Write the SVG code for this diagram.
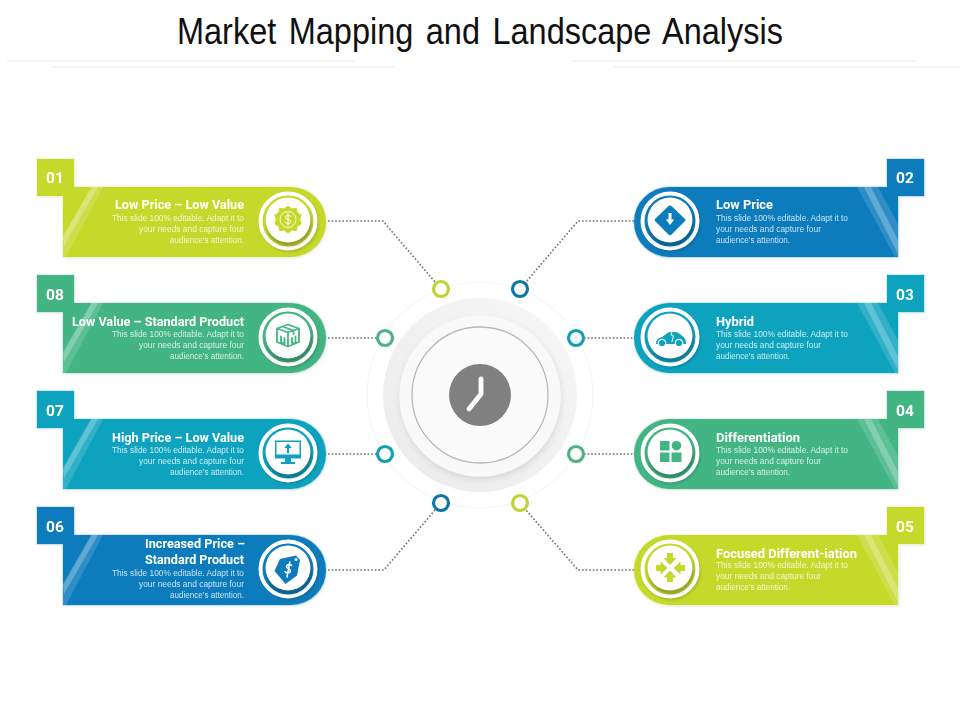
<svg xmlns="http://www.w3.org/2000/svg" width="960" height="720" viewBox="0 0 960 720">
<style>
text{font-family:"Liberation Sans",Arial,sans-serif}
.title{font-size:37px;fill:#111;word-spacing:4px}
.num{font-family:Roboto,"Liberation Sans",sans-serif;font-weight:700;font-size:15.5px;fill:#fff;text-anchor:middle}
.head{font-family:Roboto,"Liberation Sans",sans-serif;font-weight:700;font-size:12.5px;fill:#fff}
.body{font-size:8.5px;fill:#fff;fill-opacity:.78}
.lime{color:#c4d92c}.green{color:#43b583}.teal{color:#0fa3bf}.blue{color:#0b7cbc}
.shape{fill:currentColor;stroke:currentColor;stroke-opacity:.16;stroke-width:2;paint-order:stroke}
.ic{fill:currentColor}
.icl{fill:none;stroke:currentColor;stroke-width:1.800;stroke-linejoin:round;stroke-linecap:round}
.wl{fill:none;stroke:#fff;stroke-linecap:round;stroke-linejoin:round}
.st1{fill:#fff;fill-opacity:.14}
.st2{fill:#fff;fill-opacity:.24}
.dot{fill:none;stroke:#6f6f6f;stroke-width:1.6;stroke-dasharray:1.6 2}
.ring{fill:#fff;stroke-width:3.2}
.rule{stroke:#efefef;stroke-width:1.6;fill:none}
</style>
<defs>
<linearGradient id="hubg" x1="0" y1="1" x2="1" y2="0"><stop offset="0" stop-color="#ebebeb"/><stop offset="1" stop-color="#f7f7f7"/></linearGradient>
<filter id="soft" x="-10%" y="-15%" width="120%" height="130%"><feDropShadow dx="1" dy="1" stdDeviation="1.6" flood-color="#000" flood-opacity=".10"/></filter>
<filter id="blur2" x="-30%" y="-30%" width="160%" height="160%"><feGaussianBlur stdDeviation="1"/></filter>
<filter id="disc" x="-20%" y="-20%" width="140%" height="140%"><feDropShadow dx="1" dy="3" stdDeviation="3" flood-color="#000" flood-opacity=".10"/></filter>
<g id="medalL">
<circle cx="1.500" cy="2" r="29.500" fill="#000" opacity=".12" filter="url(#blur2)"/>
<circle cx="0" cy="0" r="27.500" class="ic"/>
<circle cx="0" cy="0" r="27.500" fill="none" stroke="#fff" stroke-width="4"/>
<circle cx="1" cy="2.500" r="23" fill="#000" opacity=".24" filter="url(#blur2)"/>
<circle cx="0" cy="-1" r="22.500" fill="#fff"/>
</g>
<path id="cardL" class="shape" d="M37 159H74V187H291A35 35 0 0 1 291 257H63V196H37Z"/>
<path id="cardR" class="shape" d="M924 159H887V187H669A35 35 0 0 0 669 257H898V196H924Z"/>
<g id="stripL"><path class="st1" d="M63 257V238L92 187H103L66 257Z"/><path class="st2" d="M64 246L98 187H91L63 236Z"/></g>
<g id="stripR"><path class="st1" d="M857 187H878L898 224V257H895Z"/><path class="st2" d="M864 187H871L898 240V254Z"/></g>
</defs>

<g id="title">
<text class="title" x="177" y="44" textLength="606" lengthAdjust="spacingAndGlyphs">Market Mapping and Landscape Analysis</text>
<path class="rule" d="M7 61H354M52 67H394M571 61H916M614 67H960"/>
</g>

<g id="connectors">
<path class="dot" d="M328 221H383L435 282"/>
<path class="dot" d="M328 338H377"/>
<path class="dot" d="M328 454H377"/>
<path class="dot" d="M328 570H384L435 510"/>
<path class="dot" d="M634 221H578L526 282"/>
<path class="dot" d="M584 338H634"/>
<path class="dot" d="M584 454H634"/>
<path class="dot" d="M634 570H578L526 510"/>
</g>

<g id="hub">
<circle cx="480" cy="395" r="113" fill="none" stroke="#f6f6f6" stroke-width="1.2"/>
<circle cx="480" cy="395" r="97" fill="url(#hubg)"/>
<circle cx="480" cy="396" r="80.500" fill="#f9f9f9" filter="url(#disc)"/>
<circle cx="480" cy="395" r="68" fill="#fbfbfb" stroke="#b9b9b9" stroke-width="1.3"/>
<circle cx="480" cy="395" r="31" fill="#808080"/>
<path d="M481 379V394L469 409" fill="none" stroke="#fff" stroke-width="4.800" stroke-linecap="round" stroke-linejoin="round"/>
</g>

<g id="dots">
<circle class="ring" cx="441" cy="289" r="7.500" stroke="#bfd333"/>
<circle class="ring" cx="520" cy="289" r="7.500" stroke="#0f76a8"/>
<circle class="ring" cx="385" cy="338" r="7.500" stroke="#4fb184"/>
<circle class="ring" cx="576" cy="338" r="7.500" stroke="#129fb1"/>
<circle class="ring" cx="385" cy="454" r="7.500" stroke="#129fb1"/>
<circle class="ring" cx="576" cy="454" r="7.500" stroke="#4fb184"/>
<circle class="ring" cx="441" cy="503" r="7.500" stroke="#0f76a8"/>
<circle class="ring" cx="520" cy="503" r="7.500" stroke="#bfd333"/>
</g>

<g id="node-01" class="lime" filter="url(#soft)">
<use href="#cardL"/><use href="#stripL"/>
<text class="num" x="55" y="183">01</text>
<text class="head" x="115" y="209" textLength="129" lengthAdjust="spacingAndGlyphs">Low Price – Low Value</text>
<text class="body" x="112" y="220.700" textLength="132" lengthAdjust="spacingAndGlyphs">This slide 100% editable.  Adapt it to</text>
<text class="body" x="139" y="232" textLength="105" lengthAdjust="spacingAndGlyphs">your needs and capture four</text>
<text class="body" x="170" y="243.300" textLength="74" lengthAdjust="spacingAndGlyphs">audience's attention.</text>
<use href="#medalL" x="288" y="221"/>
<path class="ic" d="M288 205.500l3.800 3 4.800-.8 1 4.800 4.200 2.500-1.800 4.500 1.800 4.500-4.200 2.500-1 4.800-4.800-.8-3.800 3-3.800-3-4.800.8-1-4.800-4.200-2.500 1.800-4.500-1.800-4.500 4.200-2.500 1-4.800 4.800.8z"/>
<circle cx="288" cy="219.500" r="8" fill="none" stroke="#fff" stroke-width=".9"/>
<path class="wl" stroke-width="1" d="M291 216.500c-1-1.300-5.600-1.500-5.600 1 0 2.700 5.400 1.500 5.400 4 0 2.500-4.600 2.300-5.800.8M288 213.500v12"/>
</g>

<g id="node-08" class="green" filter="url(#soft)" transform="translate(0 116)">
<use href="#cardL"/><use href="#stripL"/>
<text class="num" x="55" y="183.700">08</text>
<text class="head" x="72" y="210" textLength="172" lengthAdjust="spacingAndGlyphs">Low Value – Standard Product</text>
<text class="body" x="112" y="220.700" textLength="132" lengthAdjust="spacingAndGlyphs">This slide 100% editable.  Adapt it to</text>
<text class="body" x="139" y="232" textLength="105" lengthAdjust="spacingAndGlyphs">your needs and capture four</text>
<text class="body" x="170" y="243.300" textLength="74" lengthAdjust="spacingAndGlyphs">audience's attention.</text>
<use href="#medalL" x="288" y="221"/>
<path class="icl" d="M288 208.500l11 4v13.500l-11 4.500-11-4.500v-13.500zM277 212.500l11 4 11-4M288 216.500v14M282.500 210.500l11 4v3.500M281 220.500v6l3.500 1.300v-6M292 221.800v6l3.500-1.300v-6"/>
</g>

<g id="node-07" class="teal" filter="url(#soft)" transform="translate(0 232)">
<use href="#cardL"/><use href="#stripL"/>
<text class="num" x="55" y="183.700">07</text>
<text class="head" x="112" y="210" textLength="132" lengthAdjust="spacingAndGlyphs">High Price – Low Value</text>
<text class="body" x="112" y="220.700" textLength="132" lengthAdjust="spacingAndGlyphs">This slide 100% editable.  Adapt it to</text>
<text class="body" x="139" y="232" textLength="105" lengthAdjust="spacingAndGlyphs">your needs and capture four</text>
<text class="body" x="170" y="243.300" textLength="74" lengthAdjust="spacingAndGlyphs">audience's attention.</text>
<use href="#medalL" x="288" y="221"/>
<path class="ic" d="M275 208.500h26v18h-26zM285 226.500h6v3.500h4v2h-14v-2h4z"/>
<path fill="#fff" d="M276.500 210h23v12.500h-23z"/>
<path class="ic" d="M288 211.500l3.800 4.500h-2.800v5h-2v-5h-2.800z"/>
</g>

<g id="node-06" class="blue" filter="url(#soft)" transform="translate(0 348)">
<use href="#cardL"/><use href="#stripL"/>
<text class="num" x="55" y="183.700">06</text>
<text class="head" x="145" y="200" textLength="100" lengthAdjust="spacingAndGlyphs">Increased Price –</text>
<text class="head" x="145" y="216" textLength="99" lengthAdjust="spacingAndGlyphs">Standard Product</text>
<text class="body" x="112" y="227.700" textLength="132" lengthAdjust="spacingAndGlyphs">This slide 100% editable.  Adapt it to</text>
<text class="body" x="139" y="239" textLength="105" lengthAdjust="spacingAndGlyphs">your needs and capture four</text>
<text class="body" x="170" y="250.300" textLength="74" lengthAdjust="spacingAndGlyphs">audience's attention.</text>
<use href="#medalL" x="288" y="221"/>
<path class="ic" d="M280 211l16-3.500 4 4.500-3 15.500-11.500 8.500-11-13z"/>
<circle cx="296" cy="211.500" r="1.500" fill="#fff"/>
<path class="wl" stroke-width="1.500" d="M291.500 217.500c-1.200-1.800-5-1.300-5 1 0 2.500 4.500 2 4 4.700-.4 2.400-4.500 2.300-5.500.3M289.800 214l-2.800 15"/>
</g>

<g id="node-02" class="blue" filter="url(#soft)">
<use href="#cardR"/><use href="#stripR"/>
<text class="num" x="905" y="183">02</text>
<text class="head" x="716" y="209" textLength="57" lengthAdjust="spacingAndGlyphs">Low Price</text>
<text class="body" x="716" y="220.700" textLength="132" lengthAdjust="spacingAndGlyphs">This slide 100% editable.  Adapt it to</text>
<text class="body" x="716" y="232" textLength="105" lengthAdjust="spacingAndGlyphs">your needs and capture four</text>
<text class="body" x="716" y="243.300" textLength="74" lengthAdjust="spacingAndGlyphs">audience's attention.</text>
<use href="#medalL" x="670" y="221"/>
<path class="ic" d="M670 205.500a2 2 0 0 1 1.500.6l13.500 13a1.500 1.500 0 0 1 0 2l-13.500 13.300a2 2 0 0 1-3 0l-13.500-13.300a1.500 1.500 0 0 1 0-2l13.500-13a2 2 0 0 1 1.500-.6z"/>
<path fill="#fff" d="M668.500 213h3v6.500h2.700l-4.200 5.500-4.200-5.500h2.700z"/>
</g>

<g id="node-03" class="teal" filter="url(#soft)" transform="translate(0 116)">
<use href="#cardR"/><use href="#stripR"/>
<text class="num" x="905" y="183.700">03</text>
<text class="head" x="716" y="209.700" textLength="38" lengthAdjust="spacingAndGlyphs">Hybrid</text>
<text class="body" x="716" y="220.700" textLength="132" lengthAdjust="spacingAndGlyphs">This slide 100% editable.  Adapt it to</text>
<text class="body" x="716" y="232" textLength="105" lengthAdjust="spacingAndGlyphs">your needs and capture four</text>
<text class="body" x="716" y="243.300" textLength="74" lengthAdjust="spacingAndGlyphs">audience's attention.</text>
<use href="#medalL" x="670" y="221"/>
<path class="ic" d="M656 228c0-4 2-6 6-7l6-4.500c4-1.500 9-1 12 1.500l4 3.500c1.500 1 2 3 2 6.500z"/>
<circle cx="662" cy="227" r="3.700" class="ic" stroke="#fff" stroke-width="1.200"/>
<circle cx="679" cy="227" r="3.700" class="ic" stroke="#fff" stroke-width="1.200"/>
<path class="wl" stroke-width="1" d="M673 213l-2 6 2.500 .5-1.500 6"/>
</g>

<g id="node-04" class="green" filter="url(#soft)" transform="translate(0 232)">
<use href="#cardR"/><use href="#stripR"/>
<text class="num" x="905" y="183.700">04</text>
<text class="head" x="716" y="210" textLength="84" lengthAdjust="spacingAndGlyphs">Differentiation</text>
<text class="body" x="716" y="220.700" textLength="132" lengthAdjust="spacingAndGlyphs">This slide 100% editable.  Adapt it to</text>
<text class="body" x="716" y="232" textLength="105" lengthAdjust="spacingAndGlyphs">your needs and capture four</text>
<text class="body" x="716" y="243.300" textLength="74" lengthAdjust="spacingAndGlyphs">audience's attention.</text>
<use href="#medalL" x="670" y="221"/>
<path class="ic" d="M660 209h9.500v9.500H660zM660 220.500h9.500v9.500H660zM671.500 220.500h10v9.500h-10z"/>
<circle class="ic" cx="676.500" cy="213.700" r="4.800"/>
</g>

<g id="node-05" class="lime" filter="url(#soft)" transform="translate(0 348)">
<use href="#cardR"/><use href="#stripR"/>
<text class="num" x="905" y="183.700">05</text>
<text class="head" x="716" y="209.700" textLength="141" lengthAdjust="spacingAndGlyphs">Focused Different-iation</text>
<text class="body" x="716" y="219.700" textLength="132" lengthAdjust="spacingAndGlyphs">This slide 100% editable.  Adapt it to</text>
<text class="body" x="716" y="231" textLength="105" lengthAdjust="spacingAndGlyphs">your needs and capture four</text>
<text class="body" x="716" y="242.300" textLength="74" lengthAdjust="spacingAndGlyphs">audience's attention.</text>
<use href="#medalL" x="670" y="221"/>
<path class="ic" d="M667 205h6v5h3.500l-6.500 7-6.500-7h3.500zM667 234v-4.500h-3.500l6.500-7 6.500 7h-3.500v4.500zM656 217h4.500v-3.500l7 6.500-7 6.500v-3.500H656zM685 217h-4.500v-3.500l-7 6.500 7 6.500v-3.500H685z"/>
</g>
</svg>
